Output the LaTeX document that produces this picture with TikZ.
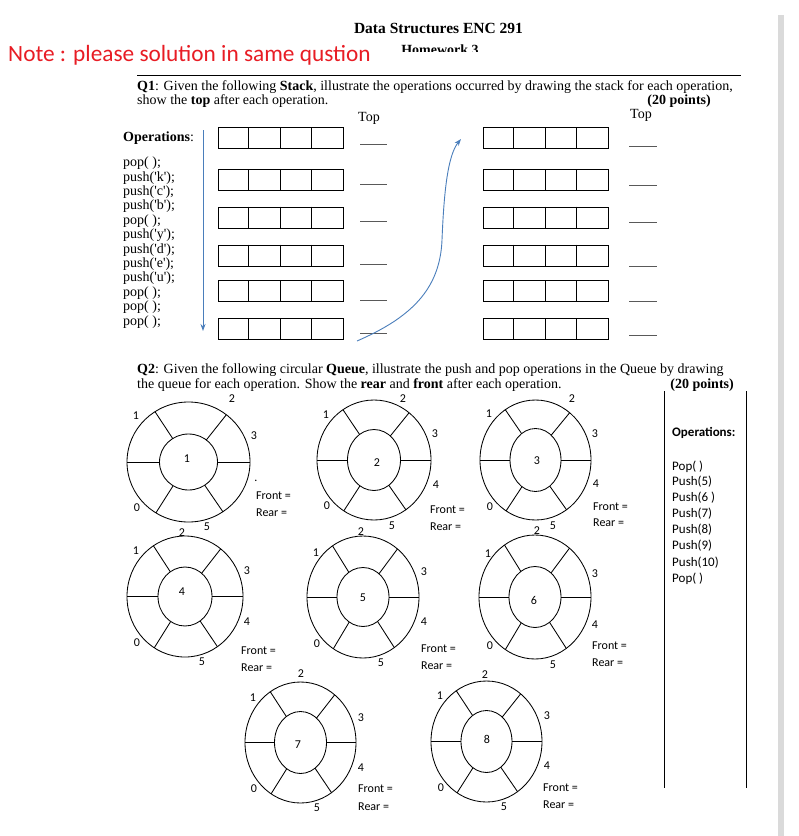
\documentclass[tikz,border=0pt]{standalone}
\usepackage{fontspec}
\setmainfont{Liberation Serif}
\newfontfamily\calfont{Carlito}
\usetikzlibrary{arrows.meta}
\definecolor{notered}{RGB}{232,28,36}
\definecolor{arrowblue}{RGB}{74,126,187}
\definecolor{edgegray}{RGB}{218,218,218}
\newcommand{\myq}{\textquotesingle}
\newcommand{\stackrow}[3]{%
  \node[cell, minimum width=125pt, minimum height=21pt, inner sep=0pt, anchor=north west] (#1) at (#2,#3) {};
  \foreach \d in {30,62,93} \draw[cell] ([xshift=\d pt]#1.north west) -- ([xshift=\d pt]#1.south west);
}
\newcommand{\qring}[8]{%
  \coordinate (#1) at (#2,#3);
  \draw[ring] (#1) ellipse [x radius=#4pt, y radius=#5pt];
  \draw[ring] (#1) ellipse [x radius=#6pt, y radius=#7pt];
  \foreach \a in {0,-52,-123,180,-238,-304}
    \draw[ring] ([shift={(\a:#6 and #7)}]#1) -- ([shift={(\a:#4 and #5)}]#1);
}
\tikzset{
  ring/.style={draw=black, line width=0.85pt},
  cell/.style={draw=black, line width=0.95pt},
  blank/.style={draw=black!65, line width=0.8pt},
  ser/.style={font=\fontsize{14}{16}\selectfont, inner sep=0pt},
  ops/.style={font=\fontsize{14}{15}\selectfont, inner sep=0pt, anchor=west},
  lab/.style={font=\calfont\fontsize{12}{14}\selectfont, inner sep=0pt},
  qops/.style={font=\calfont\fontsize{13}{15}\selectfont, inner sep=0pt, anchor=west},
  fr/.style={font=\calfont\fontsize{12}{14}\selectfont, inner sep=0pt, anchor=west},
  flow/.style={draw=arrowblue, line width=0.9pt, -{Stealth[length=7pt,width=5pt]}},
}
\begin{document}
\begin{tikzpicture}[x=1pt,y=-1pt]
\useasboundingbox (0,0) rectangle (799,836);
\fill[white] (0,0) rectangle (799,836);
\fill[edgegray] (778,15) rectangle (784,836);

% header
\node[font=\bfseries\fontsize{15.5}{17}\selectfont, inner sep=0pt, anchor=base] (title) at (438.5,33) {Data Structures ENC 291};
\begin{scope}
  \clip (380,36) rectangle (500,51.5);
  \node[font=\bfseries\fontsize{14}{16}\selectfont, inner sep=0pt, anchor=base] (hw) at (440,54) {Homework 3};
\end{scope}
\node[font=\calfont\fontsize{23.3}{26}\selectfont, text=notered, inner sep=0pt, anchor=base west] (note) at (8,61) {Note : please solution in same qustion};
\draw[line width=0.9pt] (137,75) -- (741,75);

% Q1
\node[ser, anchor=base west] (q1a) at (137,90) {\textbf{Q1}: Given the following \textbf{Stack}, illustrate the operations occurred by drawing the stack for each operation,};
\node[ser, anchor=base west] (q1b) at (137,104) {show the \textbf{top} after each operation.};
\node[ser, anchor=base east] (q1p) at (711,104) {\textbf{(20 points)}};
\node[ser, anchor=base] (topL) at (369,121) {Top};
\node[ser, anchor=base] (topR) at (641,118) {Top};

\node[ops] (opsT) at (123,138) {\textbf{Operations}:};
\node[ops] (o1) at (123,163.4) {pop( );};
\node[ops] (o2) at (123,177.8) {push(\myq k\myq);};
\node[ops] (o3) at (123,192.2) {push(\myq c\myq);};
\node[ops] (o4) at (123,206.6) {push(\myq b\myq);};
\node[ops] (o5) at (123,221.0) {pop( );};
\node[ops] (o6) at (123,235.4) {push(\myq y\myq);};
\node[ops] (o7) at (123,249.8) {push(\myq d\myq);};
\node[ops] (o8) at (123,264.2) {push(\myq e\myq);};
\node[ops] (o9) at (123,278.6) {push(\myq u\myq);};
\node[ops] (o10) at (123,293.0) {pop( );};
\node[ops] (o11) at (123,307.4) {pop( );};
\node[ops] (o12) at (123,321.8) {pop( );};

% stacks
\stackrow{L1}{218}{127.3}
\stackrow{L2}{218}{169.3}
\stackrow{L3}{218}{206.7}
\stackrow{L4}{218}{244.7}
\stackrow{L5}{218}{280.3}
\stackrow{L6}{218}{318.3}
\stackrow{R1}{483}{127.3}
\stackrow{R2}{483}{169.3}
\stackrow{R3}{483}{206.7}
\stackrow{R4}{483}{244.7}
\stackrow{R5}{483}{280.3}
\stackrow{R6}{483}{318.3}
\foreach \y in {144,184,221,264,300,333} \draw[blank] (360,\y) -- (387,\y);
\foreach \y in {146,185.7,222.7,266,301.7,335} \draw[blank] (629,\y) -- (657,\y);

\coordinate (a1s) at (203,130);
\coordinate (a1e) at (203,331);
\draw[flow] (a1s) -- (a1e);
\coordinate (c1s) at (357,341);
\coordinate (c1m) at (442,240);
\coordinate (c1e) at (461,139);
\draw[flow] (c1s) .. controls (410,318) and (440,290) .. (c1m) .. controls (444,190) and (448,155) .. (c1e);

% Q2
\node[ser, anchor=base west] (q2a) at (137,373) {\textbf{Q2}: Given the following circular \textbf{Queue}, illustrate the push and pop operations in the Queue by drawing};
\node[ser, anchor=base west] (q2b) at (137,388) {the queue for each operation. Show the \textbf{rear} and \textbf{front} after each operation.};
\node[ser, anchor=base east] (q2p) at (734,388) {\textbf{(20 points)}};

% operations box
\coordinate (bx1t) at (664,391); \coordinate (bx1b) at (664,788);
\coordinate (bx2t) at (746,391); \coordinate (bx2b) at (746,788);
\draw[line width=0.9pt] (bx1t) -- (bx1b);
\draw[line width=0.9pt] (bx2t) -- (bx2b);
\node[qops] (qopsT) at (672,433) {\textbf{Operations:}};
\node[qops] (p1) at (672,467) {Pop( )};
\node[qops] (p2) at (672,482) {Push(5)};
\node[qops] (p3) at (672,498) {Push(6 )};
\node[qops] (p4) at (672,514) {Push(7)};
\node[qops] (p5) at (672,530) {Push(8)};
\node[qops] (p6) at (672,546) {Push(9)};
\node[qops] (p7) at (672,563) {Push(10)};
\node[qops] (p8) at (672,579) {Pop( )};

% rings
\qring{C1}{188.5}{462}{61.5}{60}{29}{28}{1}
\qring{C2}{374}{460}{57}{60}{26.5}{30.5}{2}
\qring{C3}{535.5}{460}{55.5}{60}{25.5}{31.5}{3}
\qring{C4}{185}{596.5}{58}{60.5}{27}{29.5}{4}
\qring{C5}{363}{597}{56}{61}{26}{29.5}{5}
\qring{C6}{535}{597}{56}{62}{26}{30.5}{6}
\qring{C7}{300.5}{742.5}{55.5}{60.5}{26}{31}{7}
\qring{C8}{486.5}{741.5}{55.5}{60.5}{25.5}{31}{8}

% ring 1 labels
\node[lab] (C1n) at (187,459) {1};
\node[lab] (C1a) at (136,416) {1};
\node[lab] (C1b) at (232,399) {2};
\node[lab] (C1c) at (254,436) {3};
\node[lab] (C1d) at (256,481) {.};
\node[lab] (C1e) at (137,508) {0};
\node[lab] (C1f) at (207,527) {5};
\node[fr] (C1F) at (256,496) {Front =};
\node[fr] (C1R) at (256,513) {Rear =};
% ring 2
\node[lab] (C2n) at (377,463) {2};
\node[lab] (C2a) at (326,415) {1};
\node[lab] (C2b) at (403,399) {2};
\node[lab] (C2c) at (435,434) {3};
\node[lab] (C2d) at (436,485) {4};
\node[lab] (C2e) at (327,506) {0};
\node[lab] (C2f) at (392,526) {5};
\node[fr] (C2F) at (430,510) {Front =};
\node[fr] (C2R) at (430,527) {Rear =};
% ring 3
\node[lab] (C3n) at (537,461) {3};
\node[lab] (C3a) at (489,414) {1};
\node[lab] (C3b) at (572,399) {2};
\node[lab] (C3c) at (595,434) {3};
\node[lab] (C3d) at (596,484) {4};
\node[lab] (C3e) at (490,507) {0};
\node[lab] (C3f) at (553,526) {5};
\node[fr] (C3F) at (593,507) {Front =};
\node[fr] (C3R) at (593,523) {Rear =};
% ring 4
\node[lab] (C4n) at (182,592) {4};
\node[lab] (C4b) at (182,533) {2};
\node[lab] (C4a) at (136,551) {1};
\node[lab] (C4c) at (247,571) {3};
\node[lab] (C4d) at (247,622) {4};
\node[lab] (C4e) at (137,643) {0};
\node[lab] (C4f) at (202,662) {5};
\node[fr] (C4F) at (241,651) {Front =};
\node[fr] (C4R) at (241,668) {Rear =};
% ring 5
\node[lab] (C5n) at (363,598) {5};
\node[lab] (C5b) at (361,532) {2};
\node[lab] (C5a) at (316,553) {1};
\node[lab] (C5c) at (424,572) {3};
\node[lab] (C5d) at (424,622) {4};
\node[lab] (C5e) at (317,644) {0};
\node[lab] (C5f) at (381,663) {5};
\node[fr] (C5F) at (421,649) {Front =};
\node[fr] (C5R) at (421,666) {Rear =};
% ring 6
\node[lab] (C6n) at (534,600) {6};
\node[lab] (C6b) at (537,531) {2};
\node[lab] (C6a) at (488,554) {1};
\node[lab] (C6c) at (595,574) {3};
\node[lab] (C6d) at (595,625) {4};
\node[lab] (C6e) at (490,646) {0};
\node[lab] (C6f) at (553,665) {5};
\node[fr] (C6F) at (592,646) {Front =};
\node[fr] (C6R) at (592,663) {Rear =};
% ring 7
\node[lab] (C7n) at (298,745) {7};
\node[lab] (C7b) at (301,674) {2};
\node[lab] (C7a) at (253,698) {1};
\node[lab] (C7c) at (361,718) {3};
\node[lab] (C7d) at (361,768) {4};
\node[lab] (C7e) at (254,789) {0};
\node[lab] (C7f) at (317,808) {5};
\node[fr] (C7F) at (358,789) {Front =};
\node[fr] (C7R) at (358,807) {Rear =};
% ring 8
\node[lab] (C8n) at (487,739) {8};
\node[lab] (C8b) at (485,675) {2};
\node[lab] (C8a) at (440,696) {1};
\node[lab] (C8c) at (547,716) {3};
\node[lab] (C8d) at (547,766) {4};
\node[lab] (C8e) at (441,788) {0};
\node[lab] (C8f) at (504,807) {5};
\node[fr] (C8F) at (543,788) {Front =};
\node[fr] (C8R) at (543,805) {Rear =};
\end{tikzpicture}
\end{document}
